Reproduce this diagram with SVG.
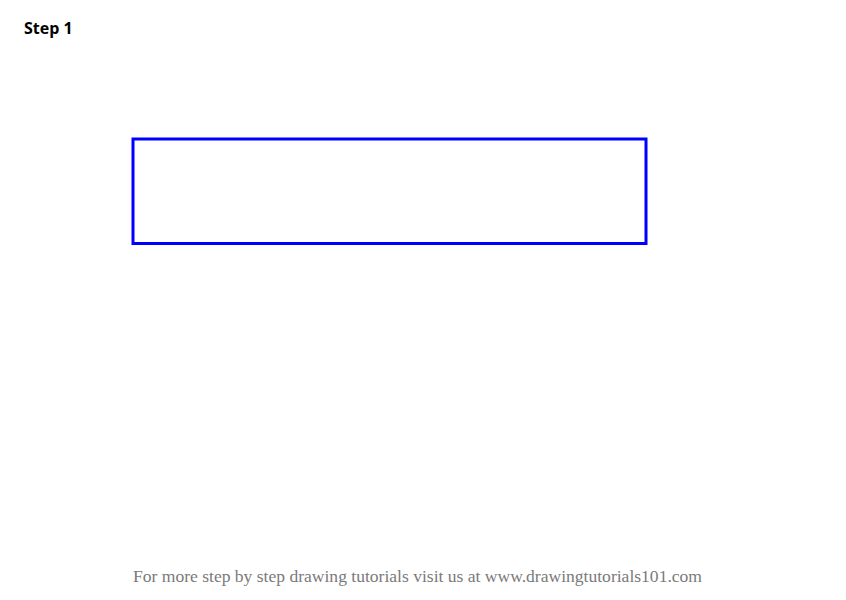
<svg xmlns="http://www.w3.org/2000/svg" width="846" height="600" viewBox="0 0 846 600">
<style>
.title{font-family:"Open Sans","Liberation Sans",sans-serif;font-weight:bold;font-size:16px;fill:#000}
.foot{font-family:"Liberation Serif","DejaVu Serif",serif;font-size:17px;fill:#7a7a7a}
.shape{fill:none;stroke:#0000ff;stroke-width:3}
</style>
<rect width="846" height="600" fill="#ffffff"/>
<text class="title" x="24" y="34">Step 1</text>
<g id="rect1">
<rect class="shape" x="133" y="139" width="513" height="104.5"/>
</g>
<g id="connectors"></g>
<text class="foot" x="133" y="582" textLength="569" lengthAdjust="spacingAndGlyphs">For more step by step drawing tutorials visit us at www.drawingtutorials101.com</text>
</svg>
